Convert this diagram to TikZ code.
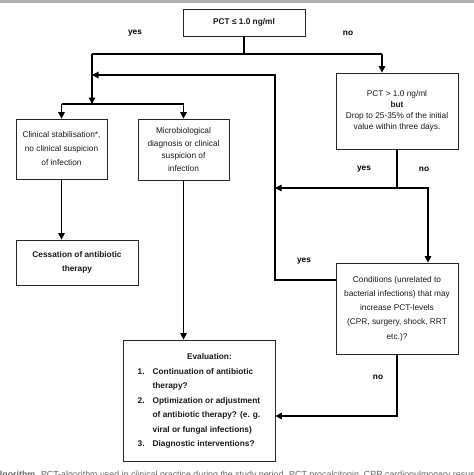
\documentclass[tikz,border=0pt]{standalone}
\usepackage{fontspec}
\setmainfont{Liberation Sans}
\usetikzlibrary{arrows.meta,calc}
\begin{document}
\begin{tikzpicture}[x=1pt,y=-1pt,
  box/.style={draw=black!85, line width=0.8pt, inner sep=0pt, align=center, text=black!90},
  conn/.style={line width=1.3pt, black},
  arr/.style={conn, -{Triangle[length=6.5pt,width=6.5pt]}},
  lbl/.style={font=\bfseries\fontsize{8.3}{10}\selectfont, inner sep=0pt}
]
\useasboundingbox (0,0) rectangle (474,475);
\fill[black!31] (0,0) rectangle (474,2.5);

% boxes
\node[box, minimum width=122pt, minimum height=27pt, font=\bfseries\fontsize{8.3}{10}\selectfont] (top) at (244,22.5) {PCT ≤ 1.0 ng/ml};
\node[box, minimum width=122pt, minimum height=76pt, font=\fontsize{8.3}{11}\selectfont] (pctgt) at (397,111) {PCT > 1.0 ng/ml\\ \textbf{but}\\ Drop to 25-35\% of the initial\\ value within three days.};
\node[box, minimum width=91pt, minimum height=60pt, font=\fontsize{8.3}{14}\selectfont] (clin) at (61.5,149) {Clinical stabilisation*,\\ no clinical suspicion\\ of infection};
\node[box, minimum width=91pt, minimum height=61pt, font=\fontsize{8.3}{12.5}\selectfont] (micro) at (183.5,149.5) {Microbiological\\ diagnosis or clinical\\ suspicion of\\ infection};
\node[box, minimum width=122pt, minimum height=45pt, font=\bfseries\fontsize{8.3}{14}\selectfont] (cess) at (77,262.5) {Cessation of antibiotic\\ therapy};
\node[box, minimum width=122pt, minimum height=91pt, font=\fontsize{8.3}{14.3}\selectfont] (cond) at (397,308.5) {Conditions (unrelated to\\ bacterial infections) that may\\ increase PCT-levels\\ (CPR, surgery, shock, RRT\\ etc.)?};
\node[box, minimum width=152pt, minimum height=121pt, font=\bfseries\fontsize{8.3}{14.5}\selectfont] (eval) at (199,400.5) {\begin{tabular}{@{}l@{\hspace{8pt}}l@{}}
 & \multicolumn{1}{c@{}}{Evaluation:}\\
1. & Continuation of antibiotic\\
 & therapy?\\
2. & Optimization or adjustment\\
 & of antibiotic therapy? (e. g.\\
 & viral or fungal infections)\\
3. & Diagnostic interventions?
\end{tabular}};

% labels
\node[lbl] (yes1) at (135,33) {yes};
\node[lbl] (no1) at (348,33) {no};
\node[lbl] (yes2) at (364,169) {yes};
\node[lbl] (no2) at (424,169) {no};
\node[lbl] (yes3) at (304,261) {yes};
\node[lbl] (no3) at (378,377) {no};

% coordinates
\coordinate (jL) at (92,54);
\coordinate (jR) at (382,54);
\coordinate (jB) at (92,104);
\coordinate (bL) at (61,104);
\coordinate (bR) at (183,104);
\coordinate (loopB) at (275,280);
\coordinate (loopT) at (275,75);
\coordinate (mid) at (397,188);
\coordinate (nR) at (428,188);
\coordinate (eY) at (397,416);

% connectors
\draw[conn] (top.south) -- (top.south |- jL);
\draw[conn] (jL) -- (jR);
\draw[arr] (jR) -- (jR |- pctgt.north);
\draw[arr] (jL) -- (jB);
\draw[conn] (clin.north |- bL) -- (micro.north |- bR);
\draw[arr] (clin.north |- bL) -- (clin.north);
\draw[arr] (micro.north |- bR) -- (micro.north);
\draw[arr] (cond.west |- loopB) -- (loopB) -- (loopT) -- (jL |- loopT);
\draw[conn] (pctgt.south) -- (mid);
\draw[arr] (mid) -- (loopB |- mid);
\draw[arr] (mid) -- (nR) -- (nR |- cond.north);
\draw[arr] (clin.south) -- (clin.south |- cess.north);
\draw[arr] (micro.south) -- (micro.south |- eval.north);
\draw[arr] (cond.south) -- (eY) -- (eval.east |- eY);

% cut-off caption
\begin{scope}
\clip (0,0) rectangle (474,475);
\node[anchor=base west, inner sep=0pt, font=\fontsize{8.85}{10}\selectfont, text=black!60] (cap) at (-6.7,477.5) {\textbf{Algorithm.} PCT-algorithm used in clinical practice during the study period. PCT procalcitonin, CPR cardiopulmonary resuscitation};
\end{scope}
\end{tikzpicture}
\end{document}
